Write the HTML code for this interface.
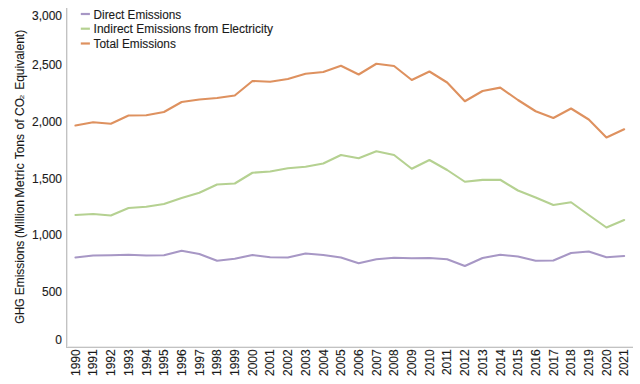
<!DOCTYPE html>
<html><head><meta charset="utf-8"><style>
html,body{margin:0;padding:0;background:#fff;width:640px;height:384px;overflow:hidden}
svg{display:block}
text{font-family:"Liberation Sans",sans-serif;font-size:12px;fill:#1a1a1a;stroke:#1a1a1a;stroke-width:0.12px}
</style></head><body>
<svg width="640" height="384" viewBox="0 0 640 384">
<rect x="66" y="8" width="1" height="340" fill="#c2c2c2"/>
<rect x="67" y="8" width="1" height="338" fill="#e8e8e8"/>
<rect x="66" y="347" width="567" height="1" fill="#c2c2c2"/>
<rect x="67" y="346" width="566" height="1" fill="#ebebeb"/>
<text x="62" y="343.9" text-anchor="end">0</text>
<text x="62" y="295.9" text-anchor="end">500</text>
<text x="62" y="238.8" text-anchor="end">1,000</text>
<text x="62" y="182.5" text-anchor="end">1,500</text>
<text x="62" y="125.8" text-anchor="end">2,000</text>
<text x="62" y="68.8" text-anchor="end">2,500</text>
<text x="62" y="20.3" text-anchor="end">3,000</text>
<text transform="translate(79.75,349.3) rotate(-90)" text-anchor="end">1990</text>
<text transform="translate(97.45,349.3) rotate(-90)" text-anchor="end">1991</text>
<text transform="translate(115.15,349.3) rotate(-90)" text-anchor="end">1992</text>
<text transform="translate(132.85,349.3) rotate(-90)" text-anchor="end">1993</text>
<text transform="translate(150.55,349.3) rotate(-90)" text-anchor="end">1994</text>
<text transform="translate(168.25,349.3) rotate(-90)" text-anchor="end">1995</text>
<text transform="translate(185.95,349.3) rotate(-90)" text-anchor="end">1996</text>
<text transform="translate(203.65,349.3) rotate(-90)" text-anchor="end">1997</text>
<text transform="translate(221.35,349.3) rotate(-90)" text-anchor="end">1998</text>
<text transform="translate(239.05,349.3) rotate(-90)" text-anchor="end">1999</text>
<text transform="translate(256.75,349.3) rotate(-90)" text-anchor="end">2000</text>
<text transform="translate(274.45,349.3) rotate(-90)" text-anchor="end">2001</text>
<text transform="translate(292.15,349.3) rotate(-90)" text-anchor="end">2002</text>
<text transform="translate(309.85,349.3) rotate(-90)" text-anchor="end">2003</text>
<text transform="translate(327.55,349.3) rotate(-90)" text-anchor="end">2004</text>
<text transform="translate(345.25,349.3) rotate(-90)" text-anchor="end">2005</text>
<text transform="translate(362.95,349.3) rotate(-90)" text-anchor="end">2006</text>
<text transform="translate(380.65,349.3) rotate(-90)" text-anchor="end">2007</text>
<text transform="translate(398.35,349.3) rotate(-90)" text-anchor="end">2008</text>
<text transform="translate(416.05,349.3) rotate(-90)" text-anchor="end">2009</text>
<text transform="translate(433.75,349.3) rotate(-90)" text-anchor="end">2010</text>
<text transform="translate(451.45,349.3) rotate(-90)" text-anchor="end">2011</text>
<text transform="translate(469.15,349.3) rotate(-90)" text-anchor="end">2012</text>
<text transform="translate(486.85,349.3) rotate(-90)" text-anchor="end">2013</text>
<text transform="translate(504.55,349.3) rotate(-90)" text-anchor="end">2014</text>
<text transform="translate(522.25,349.3) rotate(-90)" text-anchor="end">2015</text>
<text transform="translate(539.95,349.3) rotate(-90)" text-anchor="end">2016</text>
<text transform="translate(557.65,349.3) rotate(-90)" text-anchor="end">2017</text>
<text transform="translate(575.35,349.3) rotate(-90)" text-anchor="end">2018</text>
<text transform="translate(593.05,349.3) rotate(-90)" text-anchor="end">2019</text>
<text transform="translate(610.75,349.3) rotate(-90)" text-anchor="end">2020</text>
<text transform="translate(628.45,349.3) rotate(-90)" text-anchor="end">2021</text>
<text transform="translate(24.3,310.95) rotate(-90)" text-anchor="middle" textLength="25.5" lengthAdjust="spacingAndGlyphs">GHG</text>
<text transform="translate(24.3,268.0) rotate(-90)" text-anchor="middle">Emissions</text>
<text transform="translate(24.3,219.0) rotate(-90)" text-anchor="middle">(Million</text>
<text transform="translate(24.3,180.5) rotate(-90)" text-anchor="middle" textLength="34.6" lengthAdjust="spacingAndGlyphs">Metric</text>
<text transform="translate(24.3,146.7) rotate(-90)" text-anchor="middle">Tons</text>
<text transform="translate(24.3,124.4) rotate(-90)" text-anchor="middle">of</text>
<text transform="translate(24.3,107.0) rotate(-90)" text-anchor="middle">CO</text>
<text transform="translate(24.3,59.85) rotate(-90)" text-anchor="middle">Equivalent)</text>
<text transform="translate(24.3,97.0) rotate(-90) scale(1,0.56)" text-anchor="middle" style="font-size:8px">2</text>
<polyline points="75.45,257.50 93.15,255.50 110.85,255.25 128.55,254.75 146.25,255.50 163.95,255.25 181.65,250.75 199.35,254.00 217.05,260.75 234.75,258.75 252.45,255.00 270.15,257.25 287.85,257.50 305.55,253.50 323.25,255.00 340.95,257.50 358.65,263.25 376.35,259.25 394.05,257.75 411.75,258.25 429.45,258.00 447.15,259.25 464.85,266.00 482.55,258.00 500.25,254.75 517.95,256.50 535.65,260.75 553.35,260.50 571.05,253.00 588.75,251.50 606.45,257.25 624.15,256.00" fill="none" stroke="#a797c5" stroke-width="2.1" stroke-linejoin="round" stroke-linecap="round"/>
<polyline points="75.45,215.00 93.15,214.00 110.85,215.50 128.55,208.00 146.25,206.75 163.95,204.00 181.65,198.00 199.35,192.75 217.05,184.50 234.75,183.50 252.45,172.75 270.15,171.50 287.85,168.25 305.55,166.75 323.25,163.50 340.95,155.00 358.65,158.25 376.35,151.25 394.05,155.00 411.75,168.75 429.45,160.00 447.15,170.00 464.85,181.75 482.55,179.90 500.25,179.75 517.95,190.50 535.65,197.50 553.35,205.00 571.05,202.25 588.75,215.00 606.45,227.50 624.15,220.00" fill="none" stroke="#b5d191" stroke-width="2.1" stroke-linejoin="round" stroke-linecap="round"/>
<polyline points="75.45,125.50 93.15,122.25 110.85,123.75 128.55,115.50 146.25,115.25 163.95,112.00 181.65,102.00 199.35,99.50 217.05,98.00 234.75,95.50 252.45,81.00 270.15,81.75 287.85,79.00 305.55,73.75 323.25,72.00 340.95,65.75 358.65,74.50 376.35,63.75 394.05,66.00 411.75,80.00 429.45,71.50 447.15,82.50 464.85,101.25 482.55,91.00 500.25,87.60 517.95,100.00 535.65,111.25 553.35,118.00 571.05,108.50 588.75,119.50 606.45,137.50 624.15,129.25" fill="none" stroke="#de915f" stroke-width="2.1" stroke-linejoin="round" stroke-linecap="round"/>
<line x1="80.8" y1="14.0" x2="89.9" y2="14.0" stroke="#a797c5" stroke-width="2.2"/>
<text x="93.6" y="18.6" textLength="87.6" lengthAdjust="spacingAndGlyphs">Direct Emissions</text>
<line x1="80.8" y1="28.7" x2="89.9" y2="28.7" stroke="#b5d191" stroke-width="2.2"/>
<text x="93.6" y="33.3">Indirect Emissions from Electricity</text>
<line x1="80.8" y1="43.5" x2="89.9" y2="43.5" stroke="#de915f" stroke-width="2.2"/>
<text x="93.6" y="48.1" textLength="82.3" lengthAdjust="spacingAndGlyphs">Total Emissions</text>
</svg>
</body></html>
